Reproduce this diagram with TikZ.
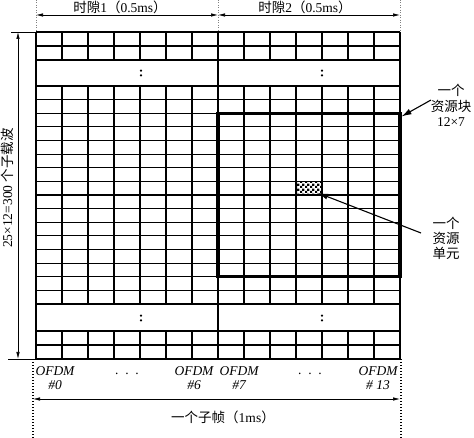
\documentclass[tikz,border=0pt]{standalone}
\usepackage{fontspec}
\setmainfont{Liberation Serif}
\newfontfamily\cjk{Noto Sans CJK SC}
\usetikzlibrary{arrows.meta,patterns}
\pgfdeclarepatternformonly{finecheck}{\pgfpointorigin}{\pgfqpoint{5pt}{5pt}}{\pgfqpoint{5pt}{5pt}}{%
  \pgfpathrectangle{\pgfpointorigin}{\pgfqpoint{2.5pt}{2.5pt}}%
  \pgfpathrectangle{\pgfqpoint{2.5pt}{2.5pt}}{\pgfqpoint{2.5pt}{2.5pt}}%
  \pgfusepath{fill}}
\begin{document}
\begin{tikzpicture}[x=1pt,y=-1pt,
  gridln/.style={line width=1.1pt},
  blockbox/.style={line width=3.2pt},
  dimln/.style={line width=0.7pt,{Latex[length=7pt,width=3.5pt]}-{Latex[length=7pt,width=3.5pt]}},
  ptr/.style={line width=1.1pt,-{Latex[length=10pt,width=6pt]}},
  guide/.style={line width=0.5pt,dotted,gray},
  guidebold/.style={line width=1.3pt,dash pattern=on 1.2pt off 1.8pt},
  lbl/.style={font=\fontsize{13.5}{15}\selectfont,inner sep=0pt,align=center},
  ofdm/.style={font=\fontsize{13.5}{14}\selectfont\itshape,inner sep=0pt,align=center},
]
\useasboundingbox (0,0) rectangle (474,438);

% ---- grid: top two rows
\foreach \y in {32,46,60} \draw[gridln] (36,\y) -- (400,\y);
\foreach \i in {0,...,14} \draw[gridln] ({36+26*\i},32) -- ({36+26*\i},60);
% gap 1
\foreach \x in {36,218,400} \draw[gridln] (\x,60) -- (\x,86);
% middle 16 rows
\foreach \j in {0,...,16} \draw[gridln] (36,{86+13.625*\j}) -- (400,{86+13.625*\j});
\foreach \i in {0,...,14} \draw[gridln] ({36+26*\i},86) -- ({36+26*\i},304);
% gap 2
\foreach \x in {36,218,400} \draw[gridln] (\x,304) -- (\x,331);
% bottom two rows
\foreach \y in {331,345,359} \draw[gridln] (36,\y) -- (400,\y);
\foreach \i in {0,...,14} \draw[gridln] ({36+26*\i},331) -- ({36+26*\i},359);

% vertical ellipsis marks in gaps
\foreach \x/\y in {141/73,322/73,141/318,322/318} {
  \fill (\x,\y-2.4) circle (1.2pt);
  \fill (\x,\y+2.4) circle (1.2pt);
}

% resource element (hatched)
\node[draw,line width=1.1pt,pattern=finecheck,minimum width=26pt,minimum height=13.6pt,inner sep=0pt] (re) at (309,188.2) {};

% resource block
\draw[blockbox] (218,113.25) rectangle (400,276.75);
\coordinate (blkcorner) at (401.5,116.5);
\coordinate (rept) at (318,193);

% right labels and pointers
\node[lbl] (blklabel) at (451,105) {{\cjk 一个}\\[1pt]{\cjk 资源块}\\12×7};
\coordinate (blkfrom) at (431,100);
\draw[ptr] (blkfrom) -- (blkcorner);
\node[lbl] (relabel) at (446,238) {{\cjk 一个}\\{\cjk 资源}\\{\cjk 单元}};
\coordinate (refrom) at (421,233);
\draw[ptr] (refrom) -- (rept);

% top dimension
\foreach \x/\n in {36/ta,218/tb,400/tc} {
  \coordinate (\n0) at (\x,0);
  \coordinate (\n1) at (\x,32);
  \draw[guide] (\n0) -- (\n1);
  \coordinate (\n) at (\x,15);
}
\draw[dimln] (ta) -- (tb);
\draw[dimln] (tb) -- (tc);
\node[lbl] (slot1) at (120,7) {{\cjk 时隙}1{\cjk （}0.5ms{\cjk ）}};
\node[lbl] (slot2) at (305,7) {{\cjk 时隙}2{\cjk （}0.5ms{\cjk ）}};

% left dimension
\coordinate (lt0) at (11,32); \coordinate (lt1) at (36,32);
\coordinate (lb0) at (8,359); \coordinate (lb1) at (36,359);
\draw[line width=0.7pt] (lt0) -- (lt1);
\draw[line width=0.7pt] (lb0) -- (lb1);
\coordinate (la) at (18,32); \coordinate (lb) at (18,359);
\draw[dimln] (la) -- (lb);
\node[lbl,rotate=90] (subc) at (7,188) {25×12=300 {\cjk 个子载波}};

% bottom dimension
\coordinate (bl0) at (33,359); \coordinate (bl1) at (33,438);
\coordinate (br0) at (401,359); \coordinate (br1) at (401,438);
\draw[guidebold] (bl0) -- (bl1);
\draw[guidebold] (br0) -- (br1);
\coordinate (ba) at (33,399); \coordinate (bb) at (400,399);
\draw[dimln] (ba) -- (bb);
\node[lbl] (subframe) at (223,417) {{\cjk 一个子帧（}1ms{\cjk ）}};

% OFDM labels
\node[ofdm] (o0) at (55,378) {OFDM\\\#0};
\node[ofdm] (o6) at (194,378) {OFDM\\\#6};
\node[ofdm] (o7) at (239,378) {OFDM\\\#7};
\node[ofdm] (o13) at (378,378) {OFDM\\\# 13};
\node[lbl] (d1) at (127,374) {.\ \ .\ \ .};
\node[lbl] (d2) at (310,374) {.\ \ .\ \ .};
\end{tikzpicture}
\end{document}
